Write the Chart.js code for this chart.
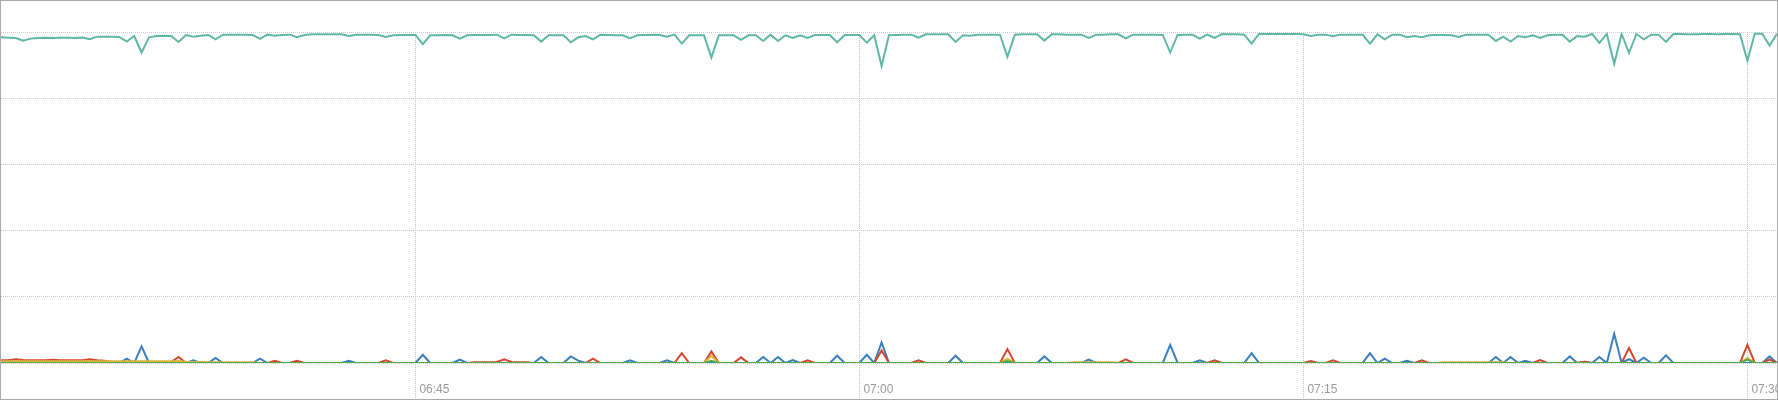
<!DOCTYPE html>
<html>
<head>
<meta charset="utf-8">
<script src="https://cdn.jsdelivr.net/npm/chart.js@4"></script>
<style>
html, body { margin: 0; padding: 0; background: #fff; }
#frame { width: 1778px; height: 400px; box-sizing: border-box; border: 1px solid #aaa; }
#wrap { position: relative; width: 1776px; height: 398px; }
</style>
</head>
<body>
<div id="frame"><div id="wrap"><canvas id="cpuChart"></canvas></div></div>
<script>
// samples every 15 s from 06:31:00 to 07:31:00
var startTime = '06:31:00';
var stepSeconds = 15;
var sampleCount = 241;
var tickLabels = ['06:45', '07:00', '07:15', '07:30'];

var idle = [
  98.4,98.3,98.2,97.4,98.0,98.2,98.3,98.2,98.3,98.3,98.2,98.3,97.8,98.6,98.6,98.6,98.5,97.1,98.8,93.8,
  98.4,98.8,98.9,98.8,97.0,99.1,98.6,98.9,99.1,97.8,99.2,99.2,99.2,99.2,99.1,97.9,99.2,98.9,99.1,99.2,
  98.4,99.1,99.3,99.3,99.3,99.3,99.3,98.8,99.2,99.2,99.2,99.1,98.5,99.0,99.1,99.1,99.1,96.3,99.0,99.0,
  99.1,99.0,98.0,99.0,99.1,99.1,99.1,99.2,98.1,99.2,99.1,99.1,99.0,97.1,99.0,99.0,99.0,96.9,98.4,98.8,
  97.8,99.2,99.1,99.0,99.0,98.1,99.0,99.1,99.2,99.1,98.6,99.2,96.5,99.0,99.0,99.0,92.3,99.0,99.0,99.0,
  97.6,99.0,99.0,97.3,99.2,97.3,99.0,98.2,99.0,98.2,99.1,99.1,99.1,96.9,99.1,99.1,99.1,96.8,99.0,89.7,
  99.0,99.1,99.2,99.2,98.3,99.3,99.3,99.3,99.3,97.0,99.0,98.9,99.2,99.2,99.2,99.2,92.5,99.2,99.3,99.3,
  99.3,97.4,99.3,99.3,99.2,99.2,99.2,98.2,99.2,99.2,99.3,99.3,98.1,99.2,99.2,99.2,99.2,99.1,93.8,99.1,
  99.2,99.2,98.0,99.2,98.2,99.4,99.3,99.3,99.2,96.5,99.4,99.4,99.4,99.4,99.4,99.4,99.3,98.8,99.2,99.2,
  98.7,99.2,99.2,99.2,99.2,96.5,99.3,97.8,99.2,99.2,98.4,98.8,98.4,99.0,99.1,99.1,99.0,98.5,99.2,99.2,
  99.2,99.2,97.3,98.6,97.1,98.8,98.4,99.0,98.2,99.0,99.2,99.2,97.1,98.8,98.6,99.4,96.7,99.4,90.4,99.4,
  93.7,99.4,97.8,99.2,99.2,97.0,99.4,99.4,99.3,99.3,99.4,99.4,99.3,99.4,99.4,99.3,91.3,99.5,99.5,95.9,99.5
];

var user = [
  0,0,0,0,0,0,0,0,0,0,0,0,0,0,0,0,0,1.3,0,5.0,
  0,0,0,0,0,0,0.8,0,0,1.5,0,0,0,0,0,1.3,0,0,0,0,
  0,0,0,0,0,0,0,0.7,0,0,0,0,0,0,0,0,0,2.5,0,0,
  0,0,1.0,0,0,0,0,0,0,0,0,0,0,1.8,0,0,0,2.0,0.7,0,
  0,0,0,0,0,0.8,0,0,0,0,0.8,0,0,0,0,0,0,0,0,0,
  0,0,0,1.8,0,1.8,0,0.9,0,0,0,0,0,2.2,0,0,0,2.5,0,6.2,
  0,0,0,0,0,0,0,0,0,2.2,0,0,0,0,0,0,0,0,0,0,
  0,2.0,0,0,0,0,0,1.0,0,0,0,0,0,0,0,0,0,0,5.5,0,
  0,0,0.8,0,0,0,0,0,0,3.0,0,0,0,0,0,0,0,0,0,0,
  0,0,0,0,0,3.0,0,1.3,0,0,0.7,0,0,0,0,0,0,0,0,0,
  0,0,1.8,0,1.8,0,0.7,0,0,0,0,0,2.0,0,0.4,0,1.8,0,8.8,0,
  1.2,0,1.6,0,0,2.3,0,0,0,0,0,0,0,0,0,0,0,0,0,2.0,0
];

var system = [
  0.8,0.8,1.1,0.9,0.8,0.8,0.8,1.0,0.8,0.8,0.8,0.8,1.1,0.8,0.7,0.3,0.3,0.3,0.2,0.2,
  0.2,0.2,0.2,0.3,1.8,0,0,0,0,0,0,0,0,0,0,0,0,0.7,0,0,
  0.7,0,0,0,0,0,0,0,0,0,0,0,0.8,0,0,0,0,0,0,0,
  0,0,0,0,0.2,0.2,0.2,0.3,1.1,0.3,0.2,0.2,0,0,0,0,0,0,0,0,
  1.3,0,0,0,0,0,0,0,0,0,0,0,3.0,0,0,0,3.5,0,0,0,
  1.7,0,0,0,0,0,0,0,0,0.8,0,0,0,0,0,0,0,0,0,3.8,
  0,0,0,0,0.8,0,0,0,0,0,0,0,0,0,0,0,4.2,0,0,0,
  0,0,0,0,0,0,0,0,0,0,0,0,1.1,0,0,0,0,0,0,0,
  0,0,0,0,0.8,0,0,0,0,0,0,0,0,0,0,0,0,0.6,0,0,
  0.8,0,0,0,0,0,0,0,0,0,0,0,0.8,0,0,0,0,0,0,0,
  0,0,0,0,0,0,0,0,0.9,0,0,0,0,0,0.4,0,0,0,0,0,
  4.5,0,0,0,0,0,0,0,0,0,0,0,0,0,0,0,5.5,0,0,1.0,0
];

var iowait = [
  0.5,0.5,0.5,0.5,0.5,0.5,0.5,0.5,0.5,0.5,0.5,0.5,0.5,0.5,0.5,0.5,0.5,0.5,0.5,0.5,
  0.5,0.5,0.5,0.5,0.6,0.4,0.3,0.3,0.2,0.2,0.2,0.2,0.2,0.2,0.2,0,0,0,0,0,
  0,0,0,0,0,0,0,0,0,0,0,0,0,0,0,0,0,0,0,0,
  0,0,0,0,0,0,0,0,0,0,0,0,0,0,0,0,0,0,0,0,
  0,0,0,0,0,0,0,0,0,0,0,0,0,0,0,0,2.2,0,0,0,
  0,0,0,0,0,0,0,0,0,0,0,0,0,0,0,0,0,0,0,0,
  0,0,0,0,0,0,0,0,0,0,0,0,0,0,0,0,1.3,0,0,0,
  0,0,0,0,0,0.2,0.2,0.2,0.2,0.2,0.2,0,0,0,0,0,0,0,0,0,
  0,0,0,0,0,0,0,0,0,0,0,0,0,0,0,0,0,0,0,0,
  0,0,0,0,0,0,0,0,0,0,0,0,0,0,0,0.2,0.2,0.2,0.2,0.2,
  0.2,0.2,0.2,0.2,0,0,0,0,0,0,0,0,0,0,0,0,0,0,0,0,
  0,0,0,0,0,0,0,0,0,0,0,0,0,0,0,0,1.5,0,0,0,0
];

var steal = [
  0,0,0,0,0,0,0,0,0,0,0,0,0,0,0,0,0,0,0,0,
  0,0,0,0,0,0,0,0,0,0,0,0,0,0,0,0,0,0,0,0,
  0,0,0,0,0,0,0,0,0,0,0,0,0,0,0,0,0,0,0,0,
  0,0,0,0,0,0,0,0,0,0,0,0,0,0,0,0,0,0,0,0,
  0,0,0,0,0,0,0,0,0,0,0,0,0,0,0,0,0.7,0,0,0,
  0,0,0,0,0,0,0,0,0,0,0,0,0,0,0,0,0,0,0,0,
  0,0,0,0,0,0,0,0,0,0,0,0,0,0,0,0,0.6,0,0,0,
  0,0,0,0,0,0,0,0,0,0,0,0,0,0,0,0,0,0,0,0,
  0,0,0,0,0,0,0,0,0,0,0,0,0,0,0,0,0,0,0,0,
  0,0,0,0,0,0,0,0,0,0,0,0,0,0,0,0,0,0,0,0,
  0,0,0,0,0,0,0,0,0,0,0,0,0,0,0,0,0,0,0,0,
  0,0,0,0,0,0,0,0,0,0,0,0,0,0,0,0,1.0,0,0,0,0
];

function pad(n) { return (n < 10 ? '0' : '') + n; }
var times = [];
var p = startTime.split(':');
var t0 = (+p[0]) * 3600 + (+p[1]) * 60 + (+p[2]);
for (var i = 0; i < sampleCount; i++) {
  var s = t0 + i * stepSeconds;
  times.push(pad(Math.floor(s / 3600)) + ':' + pad(Math.floor(s / 60) % 60) + ':' + pad(s % 60));
}

function line(label, data, color) {
  return {
    label: label,
    data: data,
    borderColor: color,
    backgroundColor: color,
    borderWidth: 2,
    pointRadius: 0,
    tension: 0,
    fill: false
  };
}

const ctx = document.getElementById('cpuChart').getContext('2d');
const cpuChart = new Chart(ctx, {
  type: 'line',
  data: {
    labels: times,
    datasets: [
      line('steal', steal, '#52ab48'),
      line('iowait', iowait, '#dcb43c'),
      line('system', system, '#d4472f'),
      line('user', user, '#3b7dbd'),
      line('idle', idle, '#5fb8a6')
    ]
  },
  options: {
    responsive: true,
    maintainAspectRatio: false,
    animation: false,
    layout: { padding: { top: 31, left: 0, right: 0, bottom: 0 } },
    plugins: {
      legend: { display: false },
      tooltip: { enabled: false }
    },
    scales: {
      x: {
        type: 'category',
        offset: false,
        afterBuildTicks: function (scale) {
          scale.ticks = scale.ticks.filter(function (t) {
            var lab = times[t.value];
            return lab.slice(6) === '00' && tickLabels.indexOf(lab.slice(0, 5)) >= 0;
          });
        },
        afterFit: function (scale) { scale.height = 36; },
        grid: {
          color: '#c2c2c2',
          lineWidth: 1,
          tickLength: 36,
          tickColor: '#c2c2c2',
          tickWidth: 1,
          tickBorderDash: [1, 1]
        },
        border: { display: false, dash: [1, 1] },
        ticks: {
          autoSkip: false,
          maxRotation: 0,
          minRotation: 0,
          align: 'start',
          labelOffset: 4,
          padding: -17,
          color: '#9a9a9a',
          font: { family: 'Arial, "Liberation Sans", sans-serif', size: 12 },
          callback: function (value) { return times[value].slice(0, 5); }
        }
      },
      y: {
        min: 0,
        max: 100,
        ticks: { display: false, stepSize: 20 },
        grid: { color: '#cccccc', drawTicks: false },
        border: { display: false, dash: [1, 1] }
      }
    }
  }
});
</script>
</body>
</html>
